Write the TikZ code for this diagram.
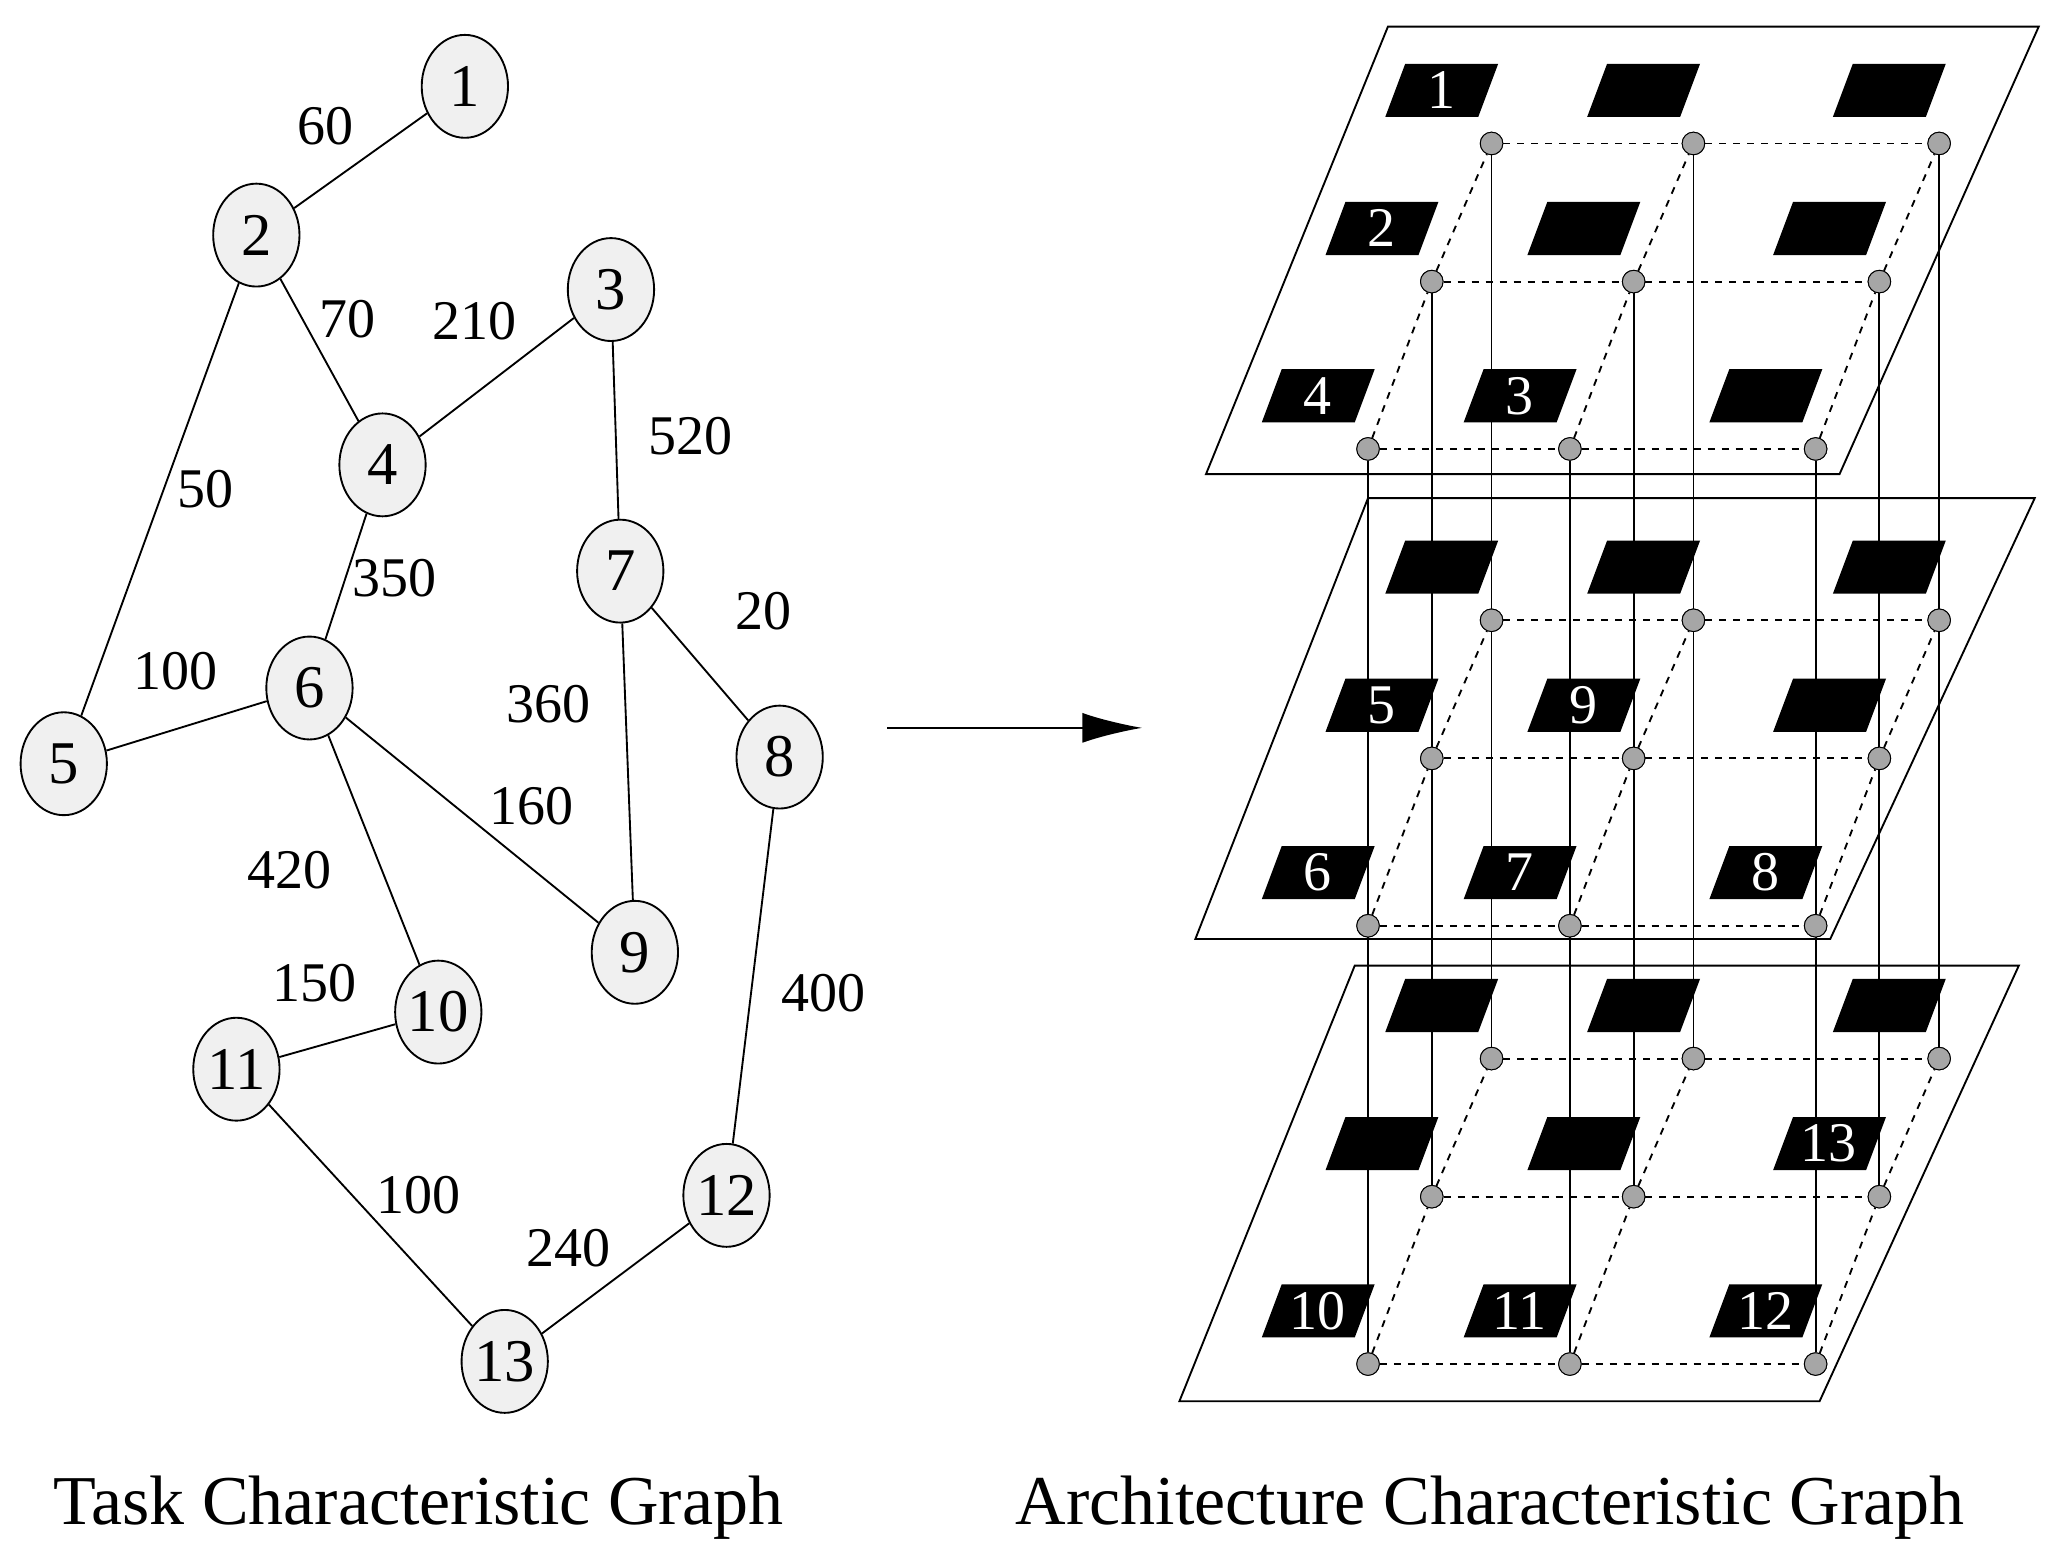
\documentclass[tikz,border=0pt]{standalone}
\usepackage{fontspec}
\setmainfont{Liberation Serif}
\usetikzlibrary{shapes.geometric,arrows.meta,calc}
\tikzset{
  task/.style={ellipse,draw,thick,fill=gray!12,minimum width=1.3cm,minimum height=1.55cm,inner sep=0pt,font=\fontsize{26}{26}\selectfont},
  wt/.style={font=\fontsize{24}{24}\selectfont,fill=none},
  edge/.style={thick},
  plane/.style={draw,thick,fill=white},
  dot/.style={circle,draw,fill=gray!70,minimum size=0.34cm,inner sep=0pt},
  link/.style={thick,dashed},
  tile/.style={fill=black},
  tlab/.style={text=white,font=\fontsize{24}{24}\selectfont},
}
\begin{document}
\begin{tikzpicture}[x=0.02cm,y=-0.02cm]
\useasboundingbox (0,0) rectangle (1548,1178);
% task graph
\foreach \n/\x/\y in {1/350/65,2/193/177,3/460/218,4/288/350,5/48/575,6/233/518,7/467/430,8/587/570,9/478/717,10/330/762,11/178/805,12/547/900,13/380/1025}
  \node[task] (t\n) at (\x,\y) {\n};
\foreach \a/\b in {1/2,2/4,3/4,2/5,3/7,4/6,7/8,5/6,7/9,6/9,6/10,8/12,10/11,11/13,12/13}
  \draw[edge] (t\a) -- (t\b);
\foreach \w/\x/\y in {60/245/95,70/262/240,210/357/242,50/155/368,520/520/328,350/297/435,20/575/460,100/132/505,360/413/530,160/400/607,420/218/655,400/620/748,150/237/740,100/315/900,240/428/940}
  \node[wt] at (\x,\y) {\w};
% mapping arrow
\coordinate (as) at (668,548);
\coordinate (ae) at (860,548);
\draw[thick,-{Latex[length=0.9cm,width=0.45cm]}] (as) -- (ae);
% architecture planes
\draw[plane] (908,357) -- (1385,357) -- (1535,20) -- (1045,20) -- cycle;
\draw[plane] (900,707) -- (1378,707) -- (1532,375) -- (1030,375) -- cycle;
\draw[plane] (888,1055) -- (1370,1055) -- (1520,727) -- (1020,727) -- cycle;
\foreach \p/\yo in {1/108,2/467,3/797}{
  \foreach \r/\dy/\dx in {0/0/0,1/104/-45,2/230/-93}{
    \foreach \c/\cx in {0/0,1/152,2/337}{
      \node[dot] (d\p\r\c) at (1123+\cx+\dx,\yo+\dy) {};
      \fill[tile] ($(d\p\r\c)+(-80,-20)$) -- ($(d\p\r\c)+(-10,-20)$) -- ($(d\p\r\c)+(5,-60)$) -- ($(d\p\r\c)+(-65,-60)$) -- cycle;
    }
  }
  \foreach \r in {0,1,2}{
    \draw[link] (d\p\r0) -- (d\p\r1) -- (d\p\r2);
  }
  \foreach \c in {0,1,2}{
    \draw[link] (d\p2\c) -- (d\p1\c) -- (d\p0\c);
  }
}
\foreach \r in {0,1,2}{
  \foreach \c in {0,1,2}{
    \draw[thick] (d1\r\c) -- (d3\r\c);
    \foreach \p in {1,2,3} \node[dot] at (d\p\r\c) {};
  }
}
% tile labels
\foreach \p/\r/\c/\t in {1/0/0/1,1/1/0/2,1/2/0/4,1/2/1/3,2/1/0/5,2/1/1/9,2/2/0/6,2/2/1/7,2/2/2/8,3/1/2/13,3/2/0/10,3/2/1/11,3/2/2/12}
  \node[tlab] at ($(d\p\r\c)+(-38,-40)$) {\t};
% captions
\node[font=\fontsize{30}{30}\selectfont] (cap1) at (315,1135) {Task Characteristic Graph};
\node[font=\fontsize{30}{30}\selectfont] (cap2) at (1122,1135) {Architecture Characteristic Graph};
\end{tikzpicture}
\end{document}
